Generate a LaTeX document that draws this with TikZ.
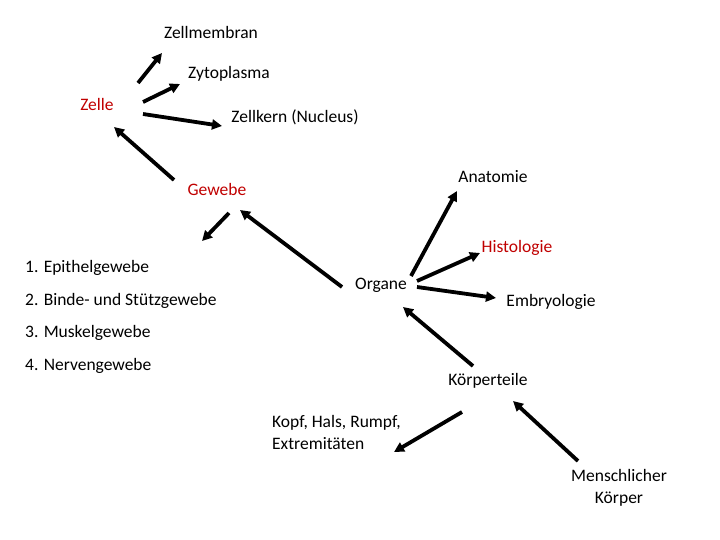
\documentclass[tikz,border=0pt]{standalone}
\usepackage{fontspec}
\setmainfont{Carlito}
\usepackage{tikz}
\usetikzlibrary{arrows.meta}
\definecolor{zellrot}{RGB}{192,0,0}

\begin{document}
\begin{tikzpicture}[x=1pt, y=-1pt,
    lbl/.style={inner sep=0pt, font=\fontsize{17.5}{22}\selectfont},
    rot/.style={lbl, text=zellrot},
    pfeil/.style={line width=3.8pt, -{Triangle[length=10pt, width=10pt]}}]
  \useasboundingbox (0,0) rectangle (720,540);

  % Zelle
  \node[rot] (zelle) at (97,104) {Zelle};
  \node[lbl] (membran) at (211,32) {Zellmembran};
  \node[lbl] (zyto) at (229,74) {Zytoplasma};
  \node[lbl] (kern) at (295,117) {Zellkern (Nucleus)};

  % Gewebe and its list
  \node[rot] (gewebe) at (217,189) {Gewebe};
  \node[lbl, anchor=west] (epi) at (25,268) {1. Epithelgewebe};
  \node[lbl, anchor=west] (binde) at (25,301) {2. Binde- und Stützgewebe};
  \node[lbl, anchor=west] (muskel) at (25,333) {3. Muskelgewebe};
  \node[lbl, anchor=west] (nerven) at (25,366) {4. Nervengewebe};

  % Organe
  \node[lbl] (organe) at (381,285) {Organe};
  \node[lbl] (anatomie) at (493,177) {Anatomie};
  \node[rot] (histo) at (517,248) {Histologie};
  \node[lbl] (embryo) at (551,302) {Embryologie};

  % Koerper
  \node[lbl] (teile) at (488,381) {Körperteile};
  \node[lbl, anchor=west, align=left] (kopf) at (272,432) {Kopf, Hals, Rumpf,\\Extremitäten};
  \node[lbl, align=center] (mensch) at (619,488) {Menschlicher\\Körper};

  \draw[pfeil] ([shift={(41,-21)}]zelle.center) -- ([shift={(-49,21)}]membran.center);
  \draw[pfeil] ([shift={(46,-2)}]zelle.center) -- ([shift={(-49,10)}]zyto.center);
  \draw[pfeil] ([shift={(46,10)}]zelle.center) -- ([shift={(-73,9)}]kern.center);
  \draw[pfeil] ([shift={(-43,-9)}]gewebe.center) -- ([shift={(17,23)}]zelle.center);
  \draw[pfeil] ([shift={(12,24)}]gewebe.center) -- ([shift={(177,-27)}]epi.west);
  \draw[pfeil] ([shift={(-39,2)}]organe.center) -- ([shift={(23,21)}]gewebe.center);
  \draw[pfeil] ([shift={(30,-9)}]organe.center) -- ([shift={(-36,14)}]anatomie.center);
  \draw[pfeil] ([shift={(36,-4)}]organe.center) -- ([shift={(-37,5)}]histo.center);
  \draw[pfeil] ([shift={(36,2)}]organe.center) -- ([shift={(-55,-4)}]embryo.center);
  \draw[pfeil] ([shift={(-15,-15)}]teile.center) -- ([shift={(22,22)}]organe.center);
  \draw[pfeil] ([shift={(-26,31)}]teile.center) -- ([shift={(122,20)}]kopf.west);
  \draw[pfeil] ([shift={(-41,-27)}]mensch.center) -- ([shift={(25,20)}]teile.center);
\end{tikzpicture}
\end{document}
